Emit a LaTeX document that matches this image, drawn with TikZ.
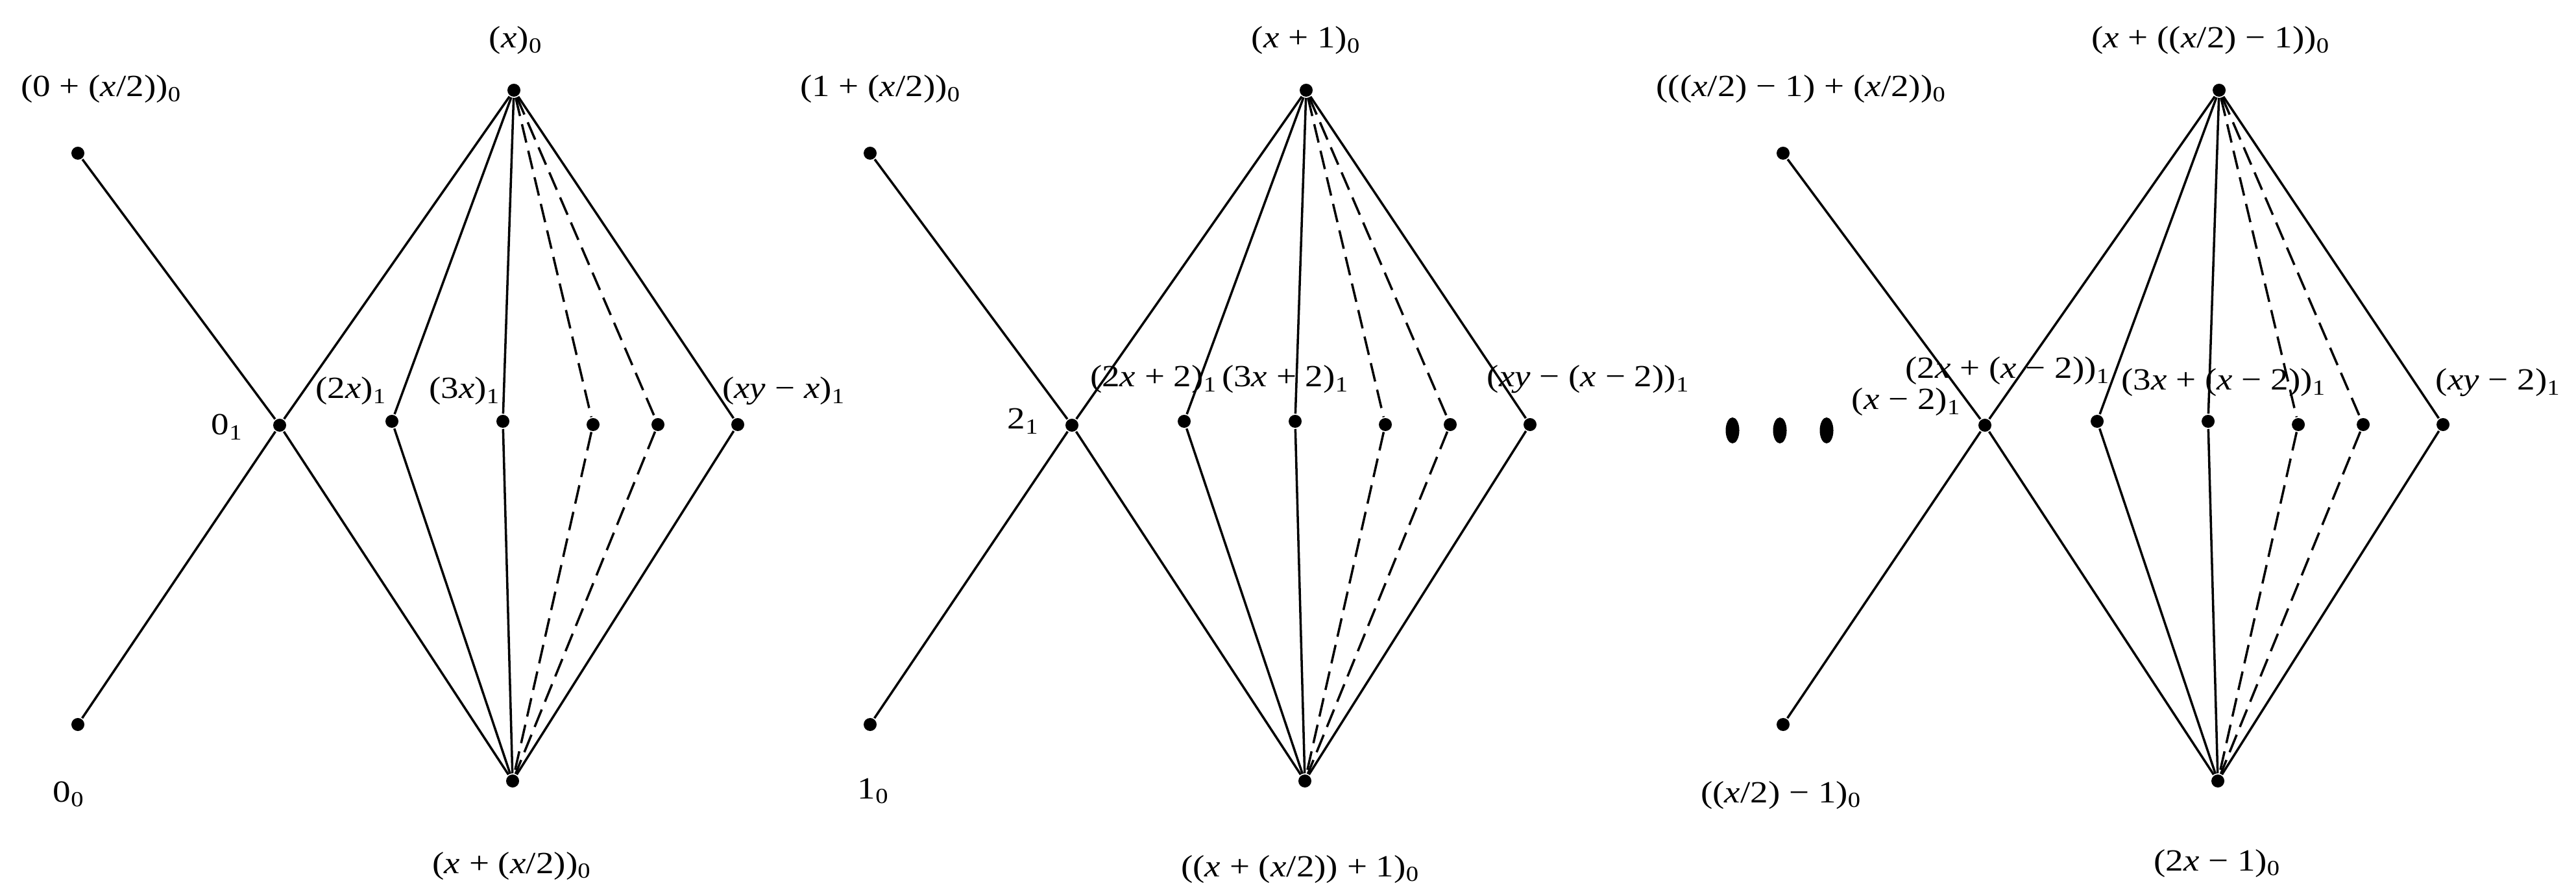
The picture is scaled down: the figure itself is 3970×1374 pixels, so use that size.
\documentclass[tikz,border=0pt]{standalone}
\usepackage{fontspec}
\setmainfont{Liberation Serif}[FakeStretch=1.16]
\usetikzlibrary{shapes.geometric}
\newcommand\vx{\textit{x}}
\newcommand\vy{\textit{y}}
\newcommand\mysub[1]{\textsubscript{#1}}
\newcommand\mypanel[2]{%
  \node[dot] (#1tl) at ({#2+120},236) {};
  \node[dot] (#1bl) at ({#2+120},1116) {};
  \node[dot] (#1c)  at ({#2+431},655) {};
  \node[dot] (#1t)  at ({#2+792},139) {};
  \node[dot] (#1bo) at ({#2+790},1203) {};
  \node[dot] (#1a)  at ({#2+604},649) {};
  \node[dot] (#1b)  at ({#2+775},649) {};
  \node[dot] (#1d)  at ({#2+914},654) {};
  \node[dot] (#1e)  at ({#2+1014},654) {};
  \node[dot] (#1r)  at ({#2+1137},654) {};
  \draw (#1tl) -- (#1c) -- (#1bo);
  \draw (#1bl) -- (#1c) -- (#1t);
  \draw (#1t) -- (#1a) -- (#1bo);
  \draw (#1t) -- (#1b) -- (#1bo);
  \draw (#1t) -- (#1r) -- (#1bo);
  \draw[dsh] (#1t) -- (#1d) -- (#1bo);
  \draw[dsh] (#1t) -- (#1e) -- (#1bo);
}
\begin{document}
\begin{tikzpicture}[x=0.01cm, y=-0.01cm, line width=1pt,
  dot/.style={circle, fill, inner sep=0pt, minimum size=0.2cm},
  bigdot/.style={ellipse, fill, inner sep=0pt, minimum width=0.21cm, minimum height=0.40cm},
  lab/.style={inner sep=0pt, anchor=base, font=\fontsize{13.5}{16}\selectfont},
  dsh/.style={dash pattern=on 0.29cm off 0.13cm}]
\useasboundingbox (0,0) rectangle (3970,1374);
\fill[white] (0,0) rectangle (3970,1374);

\mypanel{p}{0}
\mypanel{q}{1221}
\mypanel{s}{2628}

% panel 1 labels
\node[lab] (l1tl) at (156,149) {(0 + (\vx/2))\mysub{0}};
\node[lab] (l1t) at (795,74) {(\vx)\mysub{0}};
\node[lab] (l1c) at (350,670) {0\mysub{1}};
\node[lab] (l1a) at (541,614) {(2\vx)\mysub{1}};
\node[lab] (l1b) at (716,614) {(3\vx)\mysub{1}};
\node[lab] (l1r) at (1208,614) {(\vx\vy{} − \vx)\mysub{1}};
\node[lab] (l1bl) at (106,1235) {0\mysub{0}};
\node[lab] (l1bo) at (789,1345) {(\vx{} + (\vx/2))\mysub{0}};

% panel 2 labels
\node[lab] (l2tl) at (1357,149) {(1 + (\vx/2))\mysub{0}};
\node[lab] (l2t) at (2013,74) {(\vx{} + 1)\mysub{0}};
\node[lab] (l2c) at (1577,661) {2\mysub{1}};
\node[lab] (l2a) at (1778,596) {(2\vx{} + 2)\mysub{1}};
\node[lab] (l2b) at (1981,596) {(3\vx{} + 2)\mysub{1}};
\node[lab] (l2r) at (2448,596) {(\vx\vy{} − (\vx{} − 2))\mysub{1}};
\node[lab] (l2bl) at (1346,1230) {1\mysub{0}};
\node[lab] (l2bo) at (2004,1350) {((\vx{} + (\vx/2)) + 1)\mysub{0}};

% panel 3 labels
\node[lab] (l3tl) at (2776,149) {(((\vx/2) − 1) + (\vx/2))\mysub{0}};
\node[lab] (l3t) at (3407,74) {(\vx{} + ((\vx/2) − 1))\mysub{0}};
\node[lab] (l3c) at (2938,631) {(\vx{} − 2)\mysub{1}};
\node[lab] (l3a) at (3094,583) {(2\vx{} + (\vx{} − 2))\mysub{1}};
\node[lab] (l3b) at (3427,601) {(3\vx{} + (\vx{} − 2))\mysub{1}};
\node[lab] (l3r) at (3850,601) {(\vx\vy{} − 2)\mysub{1}};
\node[lab] (l3bl) at (2745,1236) {((\vx/2) − 1)\mysub{0}};
\node[lab] (l3bo) at (3417,1341) {(2\vx{} − 1)\mysub{0}};

% ellipsis
\node[bigdot] (e1) at (2670,663) {};
\node[bigdot] (e2) at (2743,663) {};
\node[bigdot] (e3) at (2815,663) {};
\end{tikzpicture}
\end{document}
